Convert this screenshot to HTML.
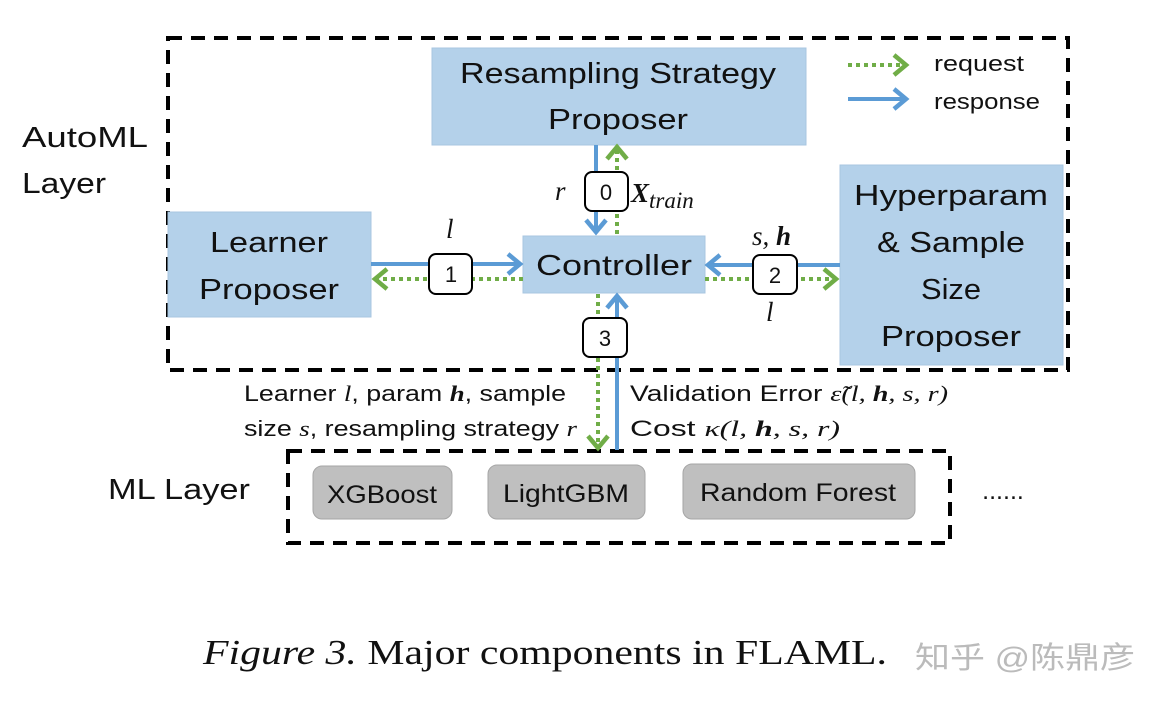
<!DOCTYPE html>
<html><head><meta charset="utf-8"><style>
html,body{margin:0;padding:0;background:#fff;width:1162px;height:704px;overflow:hidden}
svg text{font-family:"Liberation Sans",sans-serif;fill:#111}
svg text.m,svg tspan.m{font-family:"Liberation Serif",serif;font-style:italic}
</style></head><body>
<svg width="1162" height="704" viewBox="0 0 1162 704">
<defs>
<marker id="bh" markerWidth="20" markerHeight="24" refX="16" refY="12" orient="auto" markerUnits="userSpaceOnUse" viewBox="0 0 20 24"><path d="M4,2 L16,12 L4,22" fill="none" stroke="#5b9bd5" stroke-width="4.5"/></marker>
<marker id="gh" markerWidth="20" markerHeight="24" refX="16" refY="12" orient="auto" markerUnits="userSpaceOnUse" viewBox="0 0 20 24"><path d="M4,2 L16,12 L4,22" fill="none" stroke="#70ad47" stroke-width="4.5"/></marker>
</defs>
<g fill="none" stroke="#000" stroke-width="4" stroke-dasharray="14,9">
<rect x="168" y="38" width="900" height="332"/>
<rect x="288" y="451" width="662" height="92"/>
</g>
<g fill="#b4d1ea" stroke="#a8c6e0">
<rect x="432" y="48" width="374" height="97"/>
<rect x="168" y="212" width="203" height="105"/>
<rect x="523" y="236" width="182" height="57"/>
<rect x="840" y="165" width="223" height="200"/>
</g>
<g stroke-width="4" fill="none">
<line x1="596" y1="145" x2="596" y2="232" stroke="#5b9bd5" marker-end="url(#bh)"/>
<line x1="617" y1="234" x2="617" y2="147" stroke="#70ad47" stroke-dasharray="4,4" marker-end="url(#gh)"/>
<line x1="371" y1="264" x2="520" y2="264" stroke="#5b9bd5" marker-end="url(#bh)"/>
<line x1="523" y1="279" x2="375" y2="279" stroke="#70ad47" stroke-dasharray="4,4" marker-end="url(#gh)"/>
<line x1="840" y1="265" x2="708" y2="265" stroke="#5b9bd5" marker-end="url(#bh)"/>
<line x1="705" y1="279" x2="836" y2="279" stroke="#70ad47" stroke-dasharray="4,4" marker-end="url(#gh)"/>
<line x1="598" y1="294" x2="598" y2="448" stroke="#70ad47" stroke-dasharray="4,4" marker-end="url(#gh)"/>
<line x1="617" y1="450" x2="617" y2="296" stroke="#5b9bd5" marker-end="url(#bh)"/>
<line x1="848" y1="65" x2="906" y2="65" stroke="#70ad47" stroke-dasharray="4,4" marker-end="url(#gh)"/>
<line x1="848" y1="99" x2="906" y2="99" stroke="#5b9bd5" marker-end="url(#bh)"/>
</g>
<g fill="#fff" stroke="#000" stroke-width="2">
<rect x="585" y="172" width="43" height="39" rx="7"/>
<rect x="429" y="254" width="43" height="40" rx="7"/>
<rect x="753" y="255" width="44" height="39" rx="7"/>
<rect x="583" y="318" width="44" height="39" rx="7"/>
</g>
<g font-size="22" text-anchor="middle">
<text x="606" y="200">0</text><text x="451" y="282">1</text><text x="775" y="283">2</text><text x="605" y="346">3</text>
</g>
<g font-size="29" text-anchor="middle">
<text x="618" y="83" textLength="316" lengthAdjust="spacingAndGlyphs">Resampling Strategy</text>
<text x="618" y="129" textLength="140" lengthAdjust="spacingAndGlyphs">Proposer</text>
<text x="269" y="252" textLength="118" lengthAdjust="spacingAndGlyphs">Learner</text>
<text x="269" y="299" textLength="140" lengthAdjust="spacingAndGlyphs">Proposer</text>
<text x="614" y="275" textLength="156" lengthAdjust="spacingAndGlyphs">Controller</text>
<text x="951" y="205" textLength="194" lengthAdjust="spacingAndGlyphs">Hyperparam</text>
<text x="951" y="252" textLength="148" lengthAdjust="spacingAndGlyphs">&amp; Sample</text>
<text x="951" y="299" textLength="60" lengthAdjust="spacingAndGlyphs">Size</text>
<text x="951" y="346" textLength="140" lengthAdjust="spacingAndGlyphs">Proposer</text>
</g>
<g font-size="29">
<text x="22" y="147" textLength="126" lengthAdjust="spacingAndGlyphs">AutoML</text>
<text x="22" y="193" textLength="84" lengthAdjust="spacingAndGlyphs">Layer</text>
<text x="108" y="499" textLength="142" lengthAdjust="spacingAndGlyphs">ML Layer</text>
</g>
<g font-size="22">
<text x="934" y="71" textLength="90" lengthAdjust="spacingAndGlyphs">request</text>
<text x="934" y="109" textLength="106" lengthAdjust="spacingAndGlyphs">response</text>
</g>
<g font-size="27">
<text class="m" x="555" y="200">r</text>
<text class="m" x="446" y="238">l</text>
<text class="m" x="766" y="321">l</text>
<text class="m" x="752" y="245">s, <tspan font-weight="bold">h</tspan></text>
<text class="m" x="631" y="202" font-weight="bold">X<tspan font-weight="normal" font-size="23" dy="6">train</tspan></text>
</g>
<g font-size="22">
<text x="244" y="401" textLength="322" lengthAdjust="spacingAndGlyphs">Learner <tspan class="m">l</tspan>, param <tspan class="m" font-weight="bold">h</tspan>, sample</text>
<text x="244" y="436" textLength="333" lengthAdjust="spacingAndGlyphs">size <tspan class="m">s</tspan>, resampling strategy <tspan class="m">r</tspan></text>
<text x="630" y="401" textLength="318" lengthAdjust="spacingAndGlyphs">Validation Error <tspan class="m">ε̃(l, <tspan font-weight="bold">h</tspan>, s, r)</tspan></text>
<text x="630" y="436" textLength="210" lengthAdjust="spacingAndGlyphs">Cost  <tspan class="m">κ(l, <tspan font-weight="bold">h</tspan>, s, r)</tspan></text>
</g>
<g fill="#bfbfbf" stroke="#a6a6a6">
<rect x="313" y="466" width="139" height="53" rx="9"/>
<rect x="488" y="465" width="157" height="54" rx="9"/>
<rect x="683" y="464" width="232" height="55" rx="9"/>
</g>
<g font-size="25" text-anchor="middle">
<text x="382" y="503" textLength="110" lengthAdjust="spacingAndGlyphs">XGBoost</text>
<text x="566" y="502" textLength="126" lengthAdjust="spacingAndGlyphs">LightGBM</text>
<text x="798" y="501" textLength="196" lengthAdjust="spacingAndGlyphs">Random Forest</text>
<text x="1003" y="499">......</text>
</g>
<text x="203" y="664" font-size="35" style="font-family:'Liberation Serif',serif" textLength="684" lengthAdjust="spacingAndGlyphs"><tspan font-style="italic">Figure 3.</tspan> Major components in FLAML.</text>
<text x="915" y="668" font-size="30" style="font-family:'Liberation Sans','Noto Sans CJK SC',sans-serif;fill:#bbb" textLength="220" lengthAdjust="spacingAndGlyphs">知乎 @陈鼎彦</text>
</svg>
</body></html>
